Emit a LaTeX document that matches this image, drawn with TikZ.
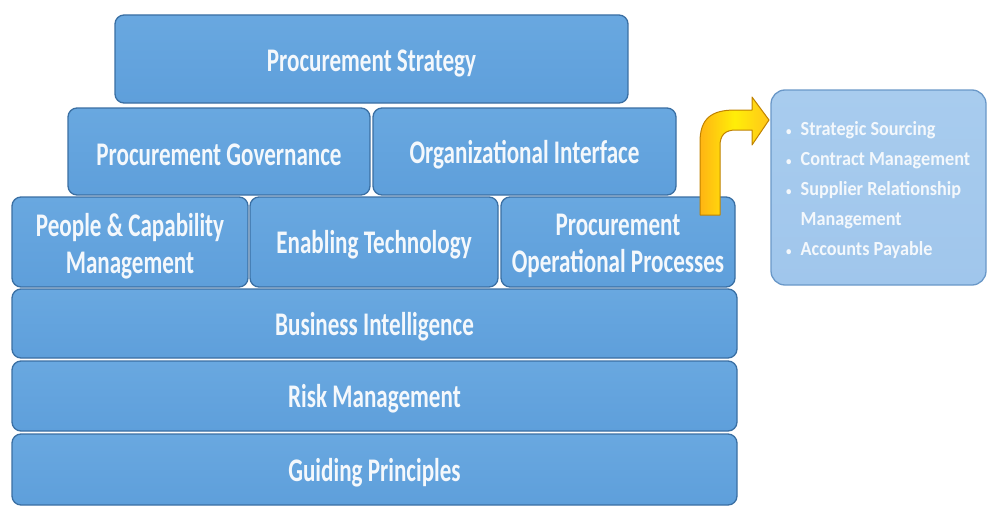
\documentclass[tikz,border=0pt]{standalone}
\usepackage{fontspec}
\setmainfont{Carlito}[FakeStretch=0.7]
\newfontfamily\rbfont{Carlito}[FakeStretch=0.91]
\definecolor{boxfill}{HTML}{5E9FDB}
\definecolor{boxtop}{HTML}{69A8E0}
\definecolor{boxline}{HTML}{3A6FA3}
\definecolor{rbfill}{HTML}{A0C6EC}
\definecolor{rbtop}{HTML}{A8CCEE}
\definecolor{rbline}{HTML}{6A98C8}
\definecolor{txt}{HTML}{F4F8FC}
\definecolor{arrfill}{HTML}{FFC61A}
\definecolor{arrline}{HTML}{C08200}
\begin{document}
\begin{tikzpicture}[x=1pt,y=-1pt,
  blk/.style={draw=boxline, line width=1.3pt, rounded corners=9pt,
    top color=boxtop, bottom color=boxfill, inner sep=0pt},
  lbl/.style={text=txt, font=\bfseries\fontsize{33}{37}\selectfont, align=center, inner sep=0pt},
  rbox/.style={draw=rbline, line width=1.3pt, rounded corners=14pt, top color=rbtop, bottom color=rbfill},
  rtext/.style={text=txt, font=\rbfont\bfseries\fontsize{20}{30}\selectfont, align=left, inner sep=0pt}
]
\useasboundingbox (0,0) rectangle (1000,519);
\node[blk, minimum width=513pt, minimum height=88pt] (ps) at (371.5,59) {};
\node[blk, minimum width=302pt, minimum height=87pt] (pg) at (219,151.5) {};
\node[blk, minimum width=303pt, minimum height=87pt] (oi) at (524.5,151.5) {};
\node[blk, minimum width=236pt, minimum height=90pt] (pc) at (130,242) {};
\node[blk, minimum width=248pt, minimum height=90pt] (et) at (374,242) {};
\node[blk, minimum width=234pt, minimum height=90pt] (pop) at (618,242) {};
\node[blk, minimum width=725pt, minimum height=69pt] (bi) at (374.5,323.5) {};
\node[blk, minimum width=725pt, minimum height=70pt] (rm) at (374.5,396) {};
\node[blk, minimum width=725pt, minimum height=71pt] (gp) at (374.5,469.5) {};
\node[lbl] (ps-t) at ([yshift=-4pt]ps.center) {Procurement Strategy};
\node[lbl] (pg-t) at ([yshift=-3pt]pg.center) {Procurement Governance};
\node[lbl] (oi-t) at ([yshift=-3pt]oi.center) {Organizational Interface};
\node[lbl] (pc-t) at ([yshift=-4pt]pc.center) {People \& Capability\\Management};
\node[lbl] (et-t) at ([yshift=-3pt]et.center) {Enabling Technology};
\node[lbl] (pop-t) at ([yshift=-4pt]pop.center) {Procurement\\Operational Processes};
\node[lbl] (bi-t) at ([yshift=-3pt]bi.center) {Business Intelligence};
\node[lbl] (rm-t) at ([yshift=-3pt]rm.center) {Risk Management};
\node[lbl] (gp-t) at ([yshift=-3pt]gp.center) {Guiding Principles};
\node[rbox, minimum width=215pt, minimum height=195pt] (rb) at (878.5,187.5) {};
\node[rtext, anchor=north west] (rt) at (786,121) {%
  {\fontsize{12}{30}\selectfont\textbullet}\hspace{9pt}Strategic Sourcing\\
  {\fontsize{12}{30}\selectfont\textbullet}\hspace{9pt}Contract Management\\
  {\fontsize{12}{30}\selectfont\textbullet}\hspace{9pt}Supplier Relationship\\
  \hphantom{{\fontsize{12}{30}\selectfont\textbullet}\hspace{9pt}}Management\\
  {\fontsize{12}{30}\selectfont\textbullet}\hspace{9pt}Accounts Payable};
\draw[arrline, line width=1pt, left color=arrfill!75!orange, right color=arrfill, middle color=yellow!70!arrfill, line join=round]
  (700,215) -- (700,142) .. controls (700,118) and (712,110) .. (735,110)
  -- (752,110) -- (752,97) -- (769,120) -- (752,145) -- (752,130) -- (736,130)
  .. controls (725,130) and (720,135) .. (720,146) -- (720,215) -- cycle;
\end{tikzpicture}
\end{document}
